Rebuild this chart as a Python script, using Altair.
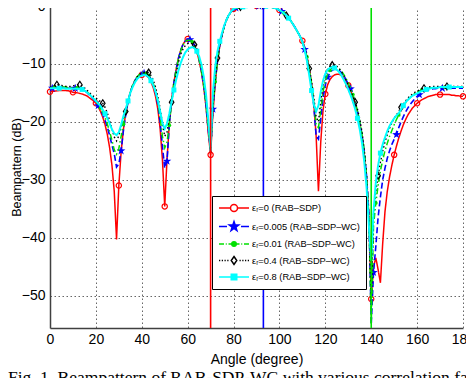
import altair as alt
import pandas as pd

ANGLES = list(range(0, 181))

# shared main-lobe values, 80..109 deg
MAIN_LOBE = [-0.5, -0.3, -0.2, -0.15, -0.15, -0.2, -0.2, -0.15, -0.1, -0.05,
             0, 0, 0, 0, -0.05, -0.1, -0.15, -0.25, -0.35, -0.5,
             -0.7, -0.95, -1.25, -1.65, -2.1, -2.6, -3.2, -3.85, -4.55, -5.25]

RED = ([-14.8, -14.75, -14.7, -14.65, -14.6, -14.6, -14.6, -14.6, -14.65, -14.75,
        -14.9, -14.95, -15.0, -15.1, -15.2, -15.35, -15.5, -15.8, -16.1, -16.4,
        -16.8, -17.4, -18.2, -19.2, -20.5, -22.2, -24.5, -27.5, -32.0, -40.3,
        -31.0, -25.2, -21.3, -18.5, -16.4, -14.9, -13.8, -13.0, -12.5, -12.1,
        -11.9, -11.9, -12.0, -12.4, -13.1, -14.1, -15.6, -17.8, -21.2, -26.5,
        -34.6, -26.5, -20.3, -16.2, -13.2, -10.9, -9.0, -7.6, -6.6, -6.0,
        -5.7, -5.7, -6.1, -6.8, -7.9, -9.4, -11.4, -14.0, -17.4, -22.0,
        -25.7, -18.5, -13.3, -9.6, -6.9, -4.9, -3.4, -2.3, -1.5, -0.9]
       + MAIN_LOBE +
       [-6.0, -7.2, -8.8, -10.8, -13.5, -17.0, -22.5, -32.0, -23.5, -18.0,
        -15.2, -13.6, -12.7, -12.2, -11.9, -11.8, -11.8, -12.0, -12.4, -13.0,
        -13.7, -14.6, -15.7, -17.0, -18.6, -20.6, -23.0, -26.0, -30.0, -36.5,
        -50.6, -45.0, -43.5, -45.5, -47.8, -41.0, -35.5, -32.0, -29.5, -27.5,
        -25.7, -24.2, -22.8, -21.6, -20.5, -19.6, -18.8, -18.2, -17.6, -17.2,
        -16.8, -16.5, -16.2, -16.0, -15.8, -15.6, -15.5, -15.4, -15.3, -15.3,
        -15.3, -15.3, -15.3, -15.3, -15.3, -15.4, -15.4, -15.5, -15.5, -15.6,
        -15.6])

BLUE = ([-14.3, -14.2, -14.1, -14.0, -14.0, -14.0, -14.1, -14.1, -14.2, -14.2,
         -14.2, -14.2, -14.2, -14.2, -14.4, -14.6, -14.9, -15.3, -15.7, -16.1,
         -16.6, -17.2, -17.9, -18.7, -19.7, -20.9, -22.4, -24.0, -25.5, -27.8,
         -27.3, -25.0, -21.5, -18.8, -16.6, -14.9, -13.7, -12.9, -12.3, -11.9,
         -11.7, -11.6, -11.7, -12.0, -12.6, -13.6, -15.0, -17.0, -20.0, -24.2,
         -28.0, -26.8, -20.5, -16.3, -13.2, -10.9, -9.0, -7.6, -6.6, -6.0,
         -5.8, -5.8, -6.1, -6.8, -7.8, -9.3, -11.2, -13.8, -17.2, -21.5,
         -25.0, -17.8, -13.0, -9.4, -6.8, -4.9, -3.4, -2.3, -1.5, -0.9]
        + MAIN_LOBE +
        [-6.2, -7.5, -9.2, -11.3, -14.0, -17.3, -22.5, -23.0, -19.5, -15.8,
         -13.6, -12.3, -11.5, -11.1, -10.9, -10.9, -11.1, -11.5, -12.0, -12.7,
         -13.5, -14.3, -15.4, -16.7, -18.2, -20.0, -22.3, -25.3, -29.5, -36.0,
         -55.0, -46.0, -41.5, -36.5, -33.0, -30.0, -28.0, -26.3, -25.0, -23.9,
         -23.0, -22.2, -21.0, -20.0, -19.1, -18.3, -17.6, -17.0, -16.5, -16.0,
         -15.6, -15.3, -15.0, -14.8, -14.6, -14.5, -14.4, -14.3, -14.3, -14.2,
         -14.2, -14.2, -14.2, -14.2, -14.2, -14.2, -14.2, -14.2, -14.2, -14.2,
         -14.2])

GREEN = ([-14.2, -14.1, -14.0, -13.9, -13.9, -13.9, -14.0, -14.0, -14.1, -14.1,
          -14.1, -14.1, -14.1, -14.1, -14.3, -14.5, -14.8, -15.1, -15.5, -15.9,
          -16.4, -17.0, -17.6, -18.4, -19.3, -20.4, -21.7, -23.2, -24.8, -25.6,
          -24.6, -22.5, -20.4, -18.4, -16.5, -14.9, -13.7, -12.8, -12.2, -11.8,
          -11.6, -11.5, -11.6, -11.9, -12.5, -13.4, -14.7, -16.6, -19.2, -22.5,
          -24.5, -23.5, -20.6, -16.5, -13.3, -11.0, -9.1, -7.7, -6.7, -6.1,
          -5.9, -5.9, -6.2, -6.9, -7.9, -9.3, -11.2, -13.7, -17.0, -21.2,
          -25.0, -17.5, -13.1, -9.5, -6.8, -4.9, -3.4, -2.3, -1.5, -0.9]
         + MAIN_LOBE +
         [-6.3, -7.5, -8.8, -10.7, -13.3, -16.5, -20.5, -21.0, -18.0, -14.8,
          -12.9, -11.8, -11.1, -10.7, -10.6, -10.6, -10.8, -11.2, -11.8, -12.5,
          -13.3, -14.2, -15.3, -16.6, -18.1, -19.9, -22.2, -25.2, -29.5, -36.5,
          -55.0, -38.0, -34.0, -31.0, -28.5, -26.6, -25.0, -23.7, -22.5, -21.5,
          -20.5, -19.6, -18.8, -18.0, -17.3, -16.7, -16.2, -15.8, -15.4, -15.1,
          -14.9, -14.7, -14.5, -14.4, -14.3, -14.2, -14.1, -14.1, -14.1, -14.1,
          -14.0, -14.0, -14.0, -14.0, -14.0, -14.0, -14.0, -14.0, -14.0, -14.0,
          -14.0])

BLACK = ([-14.1, -13.9, -13.7, -13.6, -13.6, -13.7, -13.8, -13.9, -13.9, -13.9,
          -13.8, -13.7, -13.6, -13.6, -13.8, -14.1, -14.5, -14.9, -15.3, -15.6,
          -15.9, -16.2, -16.5, -16.8, -17.5, -18.5, -19.8, -21.2, -22.6, -23.3,
          -22.4, -20.8, -19.4, -18.2, -16.6, -15.0, -13.8, -12.9, -12.2, -11.8,
          -11.6, -11.5, -11.4, -11.5, -12.0, -12.8, -14.0, -15.6, -17.7, -20.3,
          -22.5, -21.8, -19.3, -16.6, -13.9, -11.6, -9.7, -8.3, -7.4, -6.8,
          -6.5, -6.4, -6.5, -6.7, -7.4, -8.7, -10.5, -12.9, -16.0, -20.5,
          -25.5, -17.5, -12.5, -9.0, -6.7, -4.9, -3.5, -2.4, -1.6, -1.0]
         + MAIN_LOBE +
         [-6.0, -7.3, -8.8, -10.8, -13.0, -15.8, -19.2, -20.0, -16.5, -13.6,
          -11.9, -10.9, -10.4, -10.2, -10.2, -10.4, -10.8, -11.3, -12.0, -12.8,
          -13.7, -14.6, -15.6, -16.6, -17.8, -19.5, -21.8, -25.0, -29.5, -37.0,
          -51.0, -36.0, -32.0, -29.3, -27.0, -25.1, -23.5, -22.2, -21.1, -20.2,
          -19.4, -18.8, -18.2, -17.5, -16.9, -16.4, -15.9, -15.5, -15.2, -14.9,
          -14.7, -14.5, -14.3, -14.2, -14.1, -14.0, -13.9, -13.9, -13.9, -13.9,
          -13.9, -13.9, -13.9, -13.9, -13.9, -13.9, -13.9, -13.9, -13.9, -13.9,
          -13.9])

CYAN = ([-14.2, -14.2, -14.2, -14.2, -14.2, -14.2, -14.2, -14.3, -14.3, -14.3,
         -14.3, -14.3, -14.3, -14.3, -14.4, -14.6, -14.9, -15.2, -15.6, -16.0,
         -16.4, -16.8, -17.3, -17.9, -18.6, -19.4, -20.3, -21.3, -22.0, -22.3,
         -21.8, -20.5, -19.0, -17.8, -16.4, -15.0, -14.0, -13.2, -12.6, -12.2,
         -12.0, -11.9, -12.0, -12.3, -12.9, -13.7, -14.8, -16.3, -18.2, -20.2,
         -21.2, -20.3, -18.6, -16.5, -14.5, -12.7, -11.1, -9.8, -8.8, -8.0,
         -7.5, -7.2, -7.1, -7.3, -7.8, -8.7, -10.1, -12.2, -15.3, -19.8,
         -25.0, -15.0, -10.5, -7.8, -6.1, -4.6, -3.3, -2.3, -1.5, -0.9]
        + MAIN_LOBE +
        [-6.2, -7.6, -9.5, -12.0, -14.6, -17.0, -18.2, -17.2, -14.8, -12.9,
         -11.7, -11.0, -10.7, -10.6, -10.7, -11.0, -11.4, -12.0, -12.7, -13.5,
         -14.4, -15.4, -16.5, -17.8, -19.4, -21.3, -23.7, -27.0, -31.5, -38.0,
         -44.0, -35.5, -30.5, -27.5, -25.4, -23.9, -22.7, -21.6, -20.7, -20.0,
         -19.4, -18.9, -18.5, -17.9, -17.2, -16.6, -16.2, -15.8, -15.5, -15.3,
         -15.1, -14.9, -14.7, -14.5, -14.4, -14.3, -14.2, -14.1, -14.1, -14.1,
         -14.0, -14.0, -14.0, -14.0, -14.0, -14.0, -14.0, -14.0, -14.0, -14.0,
         -14.0])

NAMES = ["εᵣ=0 (RAB–SDP)", "εᵣ=0.005 (RAB–SDP–WC)", "εᵣ=0.01 (RAB–SDP–WC)",
         "εᵣ=0.4 (RAB–SDP–WC)", "εᵣ=0.8 (RAB–SDP–WC)"]
SERIES = [RED, BLUE, GREEN, BLACK, CYAN]
COLORS = ["#ff0000", "#0000ff", "#00e000", "#000000", "#00ffff"]
DASHES = [[1, 0], [6, 3], [6, 2.5, 1.5, 2.5], [1.5, 2.5], [1, 0]]
WIDTHS = [1.5, 1.6, 1.5, 1.4, 2.0]
MARKER_ANGLES = [list(range(0, 181, 10)), list(range(1, 181, 10)), list(range(2, 181, 10)),
                 list(range(3, 181, 10)), list(range(4, 181, 10))]

STAR = ("M0,-1L0.235,-0.324L0.951,-0.309L0.38,0.124L0.588,0.809L0,0.4"
        "L-0.588,0.809L-0.38,0.124L-0.951,-0.309L-0.235,-0.324Z")
DIAMOND = "M0,-1L0.65,0L0,1L-0.65,0Z"
MARKERS = [("circle", False, 28), (STAR, True, 81), ("circle", True, 14),
           (DIAMOND, False, 49), ("square", True, 25)]

LEG_PATHS = [
    "M-1,0H1.3M2.7,0H5M1.3,0A0.7,0.7 0 1,1 2.7,0A0.7,0.7 0 1,1 1.3,0Z",
    "M-1,0H0.6M3.4,0H5M2,-1L2.235,-0.324L2.951,-0.309L2.38,0.124L2.588,0.809L2,0.4"
    "L1.412,0.809L1.62,0.124L1.049,-0.309L1.765,-0.324Z",
    "M-1,0H0M0.35,0H0.55M0.9,0H3.1M3.45,0H3.65M4,0H5"
    "M1.55,0A0.45,0.45 0 1,1 2.45,0A0.45,0.45 0 1,1 1.55,0Z",
    "M-1,0h0.25M-0.45,0h0.25M0.1,0h0.25M0.65,0h0.25"
    "M3.1,0h0.25M3.65,0h0.25M4.2,0h0.25M4.75,0h0.25"
    "M2,-0.8L2.55,0L2,0.8L1.45,0Z",
    "M-1,0H5M1.45,-0.55H2.55V0.55H1.45Z",
]
LEG_FILLS = ["#ffffff", "#0000ff", "#00e000", "#ffffff", "#00ffff"]

VLINES = [70, 93, 140]
VLINE_COLORS = ["#ff0000", "#0000ff", "#00e000"]

X_TICKS = list(range(0, 181, 20))
Y_TICKS = [-50, -40, -30, -20, -10, 0]

rows = []
for name, vals in zip(NAMES, SERIES):
    for a, v in zip(ANGLES, vals):
        rows.append({"angle": a, "db": v, "series": name})
df = pd.DataFrame(rows)

xs = alt.Scale(domain=[0, 180], nice=False, zero=False)
ys = alt.Scale(domain=[-55.6, 0], nice=False, zero=False)

x_axis = alt.Axis(values=X_TICKS, title="Angle (degree)", grid=True, ticks=False,
                  labelPadding=4, labelFlush=False, titleY=31, titleBaseline="middle")
y_axis = alt.Axis(values=Y_TICKS, title="Beampattern (dB)", grid=True, ticks=False,
                  labelPadding=5, labelFlush=False, titleX=-34, titleY=161, titleAngle=270,
                  titleBaseline="middle", titleAlign="center")

layers = []
for i, (name, vals) in enumerate(zip(NAMES, SERIES)):
    sub = df[df["series"] == name]
    line = alt.Chart(sub).mark_line(
        color=COLORS[i], strokeWidth=WIDTHS[i], strokeDash=DASHES[i], clip=True
    ).encode(
        x=alt.X("angle:Q", scale=xs, axis=x_axis),
        y=alt.Y("db:Q", scale=ys, axis=y_axis),
    )
    shape, filled, size = MARKERS[i]
    msub = sub[sub["angle"].isin(MARKER_ANGLES[i])]
    pts = alt.Chart(msub).mark_point(
        shape=shape, filled=filled, size=size, color=COLORS[i],
        strokeWidth=1.2, opacity=1
    ).encode(
        x=alt.X("angle:Q", scale=xs),
        y=alt.Y("db:Q", scale=ys),
    )
    layers += [line, pts]

rules = alt.Chart(pd.DataFrame({"angle": VLINES, "c": VLINE_COLORS})).mark_rule(
    strokeWidth=1.6
).encode(
    x=alt.X("angle:Q", scale=xs),
    color=alt.Color("c:N", scale=None, legend=None),
)
layers.append(rules)

LEG = alt.Legend(title=None, orient="none", legendX=162, legendY=190)
empty = pd.DataFrame({"angle": pd.Series([], dtype=float),
                      "db": pd.Series([], dtype=float),
                      "series": pd.Series([], dtype=str)})
legend_layer = alt.Chart(empty).mark_point(size=100, opacity=1, strokeWidth=1.5, filled=True).encode(
    x=alt.X("angle:Q", scale=xs),
    y=alt.Y("db:Q", scale=ys),
    shape=alt.Shape("series:N", scale=alt.Scale(domain=NAMES, range=LEG_PATHS), legend=LEG),
    stroke=alt.Stroke("series:N", scale=alt.Scale(domain=NAMES, range=COLORS), legend=LEG),
    fill=alt.Fill("series:N", scale=alt.Scale(domain=NAMES, range=LEG_FILLS), legend=LEG),
)
layers.append(legend_layer)

chart = alt.layer(*layers).properties(
    width=413, height=322,
    padding={"left": 42, "top": -2, "right": 3, "bottom": 50},
    autosize=alt.AutoSizeParams(type="none"),
    title=alt.TitleParams(
        text="Fig. 1.   Beampattern of RAB-SDP-WC with various correlation factors",
        orient="bottom", anchor="start", frame="group", dx=-42, offset=3,
        font="Liberation Serif", fontSize=17.5, fontWeight="normal", color="#000000",
    ),
).configure_view(stroke=None).configure_axis(
    labelFont="Liberation Sans", labelFontSize=14, labelColor="#000000",
    titleFont="Liberation Sans", titleFontSize=14, titleFontWeight="normal", titleColor="#000000",
    domainColor="#404040", domainWidth=1.5,
    gridColor="#555555", gridDash=[1.5, 2.5], gridWidth=1, gridOpacity=0.9,
).configure_axisY(titleFontSize=12.5).configure_legend(
    strokeColor="#000000", fillColor="#ffffff", padding=6,
    labelFont="Liberation Sans", labelFontSize=9.3, labelColor="#000000",
    labelOffset=22, rowPadding=3.5, symbolSize=100, symbolStrokeWidth=1.5,
    cornerRadius=0,
)

chart.save("out.html", embed_options={"renderer": "svg", "actions": False})
